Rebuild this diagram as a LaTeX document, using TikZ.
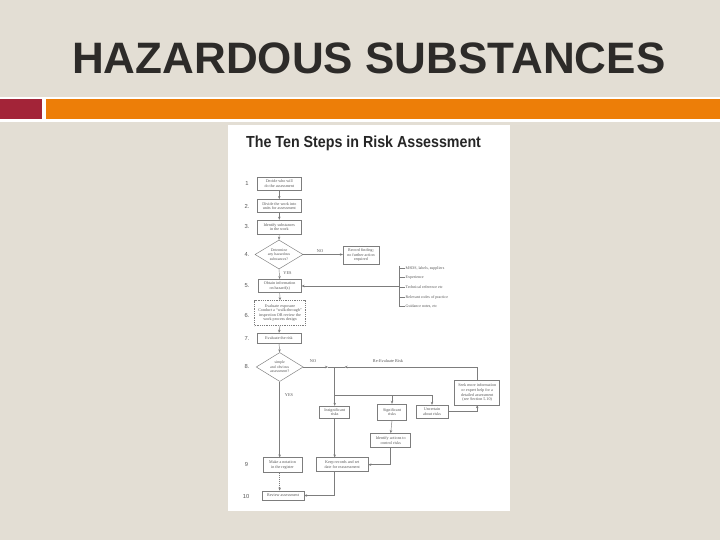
\documentclass[tikz,border=0pt]{standalone}
\usepackage{fontspec}
\setmainfont{Liberation Serif}
\newfontfamily\sansf{Liberation Sans}
\usetikzlibrary{arrows.meta,shapes.geometric,calc}
\definecolor{bg}{RGB}{227,222,212}
\definecolor{barred}{RGB}{163,36,56}
\definecolor{barorange}{RGB}{237,126,8}
\definecolor{ttl}{RGB}{45,43,41}
\definecolor{ln}{RGB}{125,125,125}
\definecolor{tx}{RGB}{85,85,85}
\begin{document}
\begin{tikzpicture}[x=1pt,y=-1pt,
  sbox/.style={draw=ln, line width=0.45pt, fill=white, inner sep=0.5pt, align=center,
    font=\fontsize{4.1}{4.6}\selectfont, text=tx},
  dbox/.style={sbox, dash pattern=on 1pt off 0.8pt},
  dia/.style={draw=ln, line width=0.45pt, fill=white, shape=diamond, inner sep=0pt, align=center,
    font=\fontsize{3.9}{4.4}\selectfont, text=tx, shape aspect=1.6},
  numlab/.style={font=\sansf\fontsize{5.8}{6.5}\selectfont, text=tx, inner sep=0},
  lab/.style={font=\fontsize{4.3}{5}\selectfont, text=tx, inner sep=0.3pt},
  litem/.style={anchor=west, font=\fontsize{4}{4.6}\selectfont, text=tx, inner sep=0.5pt},
  conn/.style={draw=ln, line width=0.45pt},
  arr/.style={conn, -{Stealth[length=3pt,width=2.5pt]}}]
\useasboundingbox (0,0) rectangle (720,540);
\fill[bg] (0,0) rectangle (720,540);
% header
\node[anchor=base west, inner sep=0, font=\sansf\bfseries\fontsize{44}{48}\selectfont, text=ttl] (title) at (72,74) {HAZARDOUS SUBSTANCES};
\fill[white] (0,96.7) rectangle (720,122);
\fill[barred] (0,99.3) rectangle (42,119.3);
\fill[barorange] (46,99.3) rectangle (720,119.3);
% panel
\fill[white] (228,125) rectangle (510,511);
\node[anchor=base west, inner sep=0, font=\sansf\bfseries\fontsize{16}{18}\selectfont, text=black!85] (ttl2) at (246,147.5) {\scalebox{0.89}[1]{The Ten Steps in Risk Assessment}};

% numbers
\node[numlab] (n1) at (247,183.7) {1};
\node[numlab] (n2) at (247,206) {2.};
\node[numlab] (n3) at (247,227) {3.};
\node[numlab] (n4) at (247,254.5) {4.};
\node[numlab] (n5) at (247,286) {5.};
\node[numlab] (n6) at (247,316) {6.};
\node[numlab] (n7) at (247,339) {7.};
\node[numlab] (n8) at (247,367) {8.};
\node[numlab] (n9) at (246.5,464) {9};
\node[numlab] (n10) at (246,496.5) {10};

% steps
\node[sbox, minimum width=44, minimum height=12.7] (b1) at (279.3,183.7) {Decide who will\\do the assessment};
\node[sbox, minimum width=44, minimum height=13.4] (b2) at (279.3,206) {Divide the work into\\units for assessment};
\node[sbox, minimum width=44, minimum height=14] (b3) at (279.3,227) {Identify substances\\in the work};
\node[dia, minimum width=48, minimum height=29] (d4) at (279,254.5) {Determine\\any hazardous\\substances?};
\node[sbox, minimum width=35.7, minimum height=17.3] (r4) at (361,255.3) {Record finding;\\no further action\\required};
\node[sbox, minimum width=43.3, minimum height=13.4] (b5) at (279.7,286) {Obtain information\\on hazard(s)};
\node[dbox, minimum width=50.6, minimum height=25] (b6) at (280,313) {Evaluate exposure\\Conduct a ``walk-through''\\inspection OR review the\\work process design};
\node[sbox, minimum width=44, minimum height=10] (b7) at (279,338) {Evaluate the risk};
\node[dia, minimum width=47, minimum height=29] (d8) at (279.7,367) {simple\\and obvious\\assessment?};

\node[sbox, minimum width=30, minimum height=12.3] (ins) at (334.7,412.2) {Insignificant\\risks};
\node[sbox, minimum width=29, minimum height=16] (sig) at (392,412) {Significant\\risks};
\node[sbox, minimum width=31.7, minimum height=13.3] (unc) at (432,411.7) {Uncertain\\about risks};
\node[sbox, minimum width=45, minimum height=24.3] (seek) at (477.2,392.8) {Seek more information\\or expert help for a\\detailed assessment\\(see Section 5.10)};
\node[sbox, minimum width=40, minimum height=14] (ident) at (390.7,440.3) {Identify actions to\\control risks};
\node[sbox, minimum width=39, minimum height=14.6] (make) at (282.5,465) {Make a notation\\in the register};
\node[sbox, minimum width=51.7, minimum height=14] (keep) at (342.2,464.7) {Keep records and set\\date for reassessment};
\node[sbox, minimum width=41.7, minimum height=9.5] (rev) at (283,495.5) {Review assessment};

% labels
\node[lab] (no1) at (320,250.8) {NO};
\node[lab] (yes1) at (287.5,273.3) {YES};
\node[lab] (no2) at (313,361.5) {NO};
\node[lab] (yes2) at (289,395) {YES};
\node[lab] (rer) at (388,361) {Re-Evaluate Risk};

% information sources
\coordinate (brtop) at (399.7,265.5);
\coordinate (brbot) at (399.7,306.7);
\node[litem] (li1) at (405,268.3) {MSDS, labels, suppliers};
\node[litem] (li2) at (405,277.5) {Experience};
\node[litem] (li3) at (405,287.5) {Technical reference etc};
\node[litem] (li4) at (405,297.2) {Relevant codes of practice};
\node[litem] (li5) at (405,306.5) {Guidance notes, etc};
\draw[conn] (brtop) -- (brbot);
\foreach \i in {1,...,5} {\draw[conn] (li\i.west) -- (li\i.west -| brtop);}
\draw[arr] (brtop |- b5.east) -- (b5.east);

% connectors
\draw[arr] (b1.south) -- (b2.north);
\draw[arr] (b2.south) -- (b3.north);
\draw[arr] (b3.south) -- (d4.north);
\draw[arr] (d4.east) -- (d4.east -| r4.west);
\draw[arr] (d4.south) -- (b5.north);
\draw[arr] (b5.south) -- (b6.north);
\draw[arr] (b6.south) -- (b7.north);
\draw[arr] (b7.south) -- (d8.north);

\coordinate (J) at (334.7,367);
\coordinate (K) at (334.7,395);
\coordinate (L) at (432,395);
\coordinate (na) at (328,367);
\coordinate (ra) at (344.5,367);
\draw[arr] (d8.east) -- (na);
\draw[conn] (na) -- (J);
\draw[arr] (seek.north) |- (ra);
\draw[conn] (ra) -- (J);
\draw[conn] (J) -- (K) -- (L);
\draw[arr] (K) -- (ins.north);
\draw[arr] (sig.north |- K) -- (sig.north);
\draw[arr] (L) -- (unc.north);
\draw[arr] (unc.east) -| (seek.south);
\draw[arr] (sig.south) -- (ident.north);
\draw[arr] (ident.south) |- (keep.east);
\draw[arr] (ins.south) -- (ins.south |- keep.north);
\draw[arr] (d8.south) -- (d8.south |- make.north);
\draw[arr, dash pattern=on 1pt off 1pt] (make.south -| d8.south) -- (rev.north -| d8.south);
\draw[arr] (ins.south |- keep.south) |- (rev.east);
\end{tikzpicture}
\end{document}
